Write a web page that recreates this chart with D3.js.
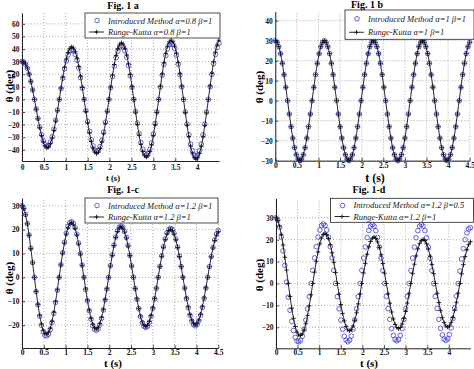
<!DOCTYPE html>
<html>
<head>
<meta charset="utf-8">
<script src="https://cdn.jsdelivr.net/npm/d3@7"></script>
<style>
  body { margin: 0; background: #fff; }
  svg { display: block; font-family: "Liberation Serif", "DejaVu Serif", serif; }
</style>
</head>
<body>
<svg id="chart" width="474" height="369"></svg>
<script>
// sample times (s), shared by every series
const time = [0,0.041,0.081,0.122,0.162,0.203,0.243,0.284,0.324,0.365,0.405,0.446,0.486,0.527,0.568,
  0.608,0.649,0.689,0.730,0.770,0.811,0.851,0.892,0.932,0.973,1.014,1.054,1.095,1.135,
  1.176,1.216,1.257,1.297,1.338,1.378,1.419,1.459,1.500,1.541,1.581,1.622,1.662,1.703,
  1.743,1.784,1.824,1.865,1.905,1.946,1.986,2.027,2.068,2.108,2.149,2.189,2.230,2.270,
  2.311,2.351,2.392,2.432,2.473,2.513,2.554,2.595,2.635,2.676,2.716,2.757,2.797,2.838,
  2.878,2.919,2.959,3.000,3.041,3.081,3.122,3.162,3.203,3.243,3.284,3.324,3.365,3.405,
  3.446,3.486,3.527,3.568,3.608,3.649,3.689,3.730,3.770,3.811,3.851,3.892,3.932,3.973,
  4.013,4.054,4.095,4.135,4.176,4.216,4.257,4.297,4.338,4.378,4.419,4.459,4.500];

// Fig 1 a : alpha = 0.8, beta = 1
const methodA = [30,29.7,27.9,24.7,20.0,14.1,7.4,0,-7.6,-15.1,-21.9,-27.9,-32.7,-35.9,-37.3,
  -36.6,-33.9,-29.6,-23.6,-16.5,-8.5,0,8.6,16.8,24.2,30.5,35.2,38.3,39.4,
  38.5,35.8,31.1,24.9,17.4,9.0,0,-9.0,-17.6,-25.4,-32.0,-36.9,-40.2,-41.3,
  -40.4,-37.4,-32.5,-26.0,-18.1,-9.3,0,9.4,18.3,26.3,33.1,38.2,41.4,42.6,
  41.6,38.6,33.5,26.8,18.7,9.6,0,-9.7,-18.9,-27.2,-34.2,-39.5,-42.8,-44.0,
  -42.9,-39.7,-34.5,-27.5,-19.2,-9.9,0,9.9,19.3,27.7,34.8,40.2,43.5,44.7,
  43.6,40.4,35.0,27.9,19.5,10.0,0,-10.0,-19.5,-28.0,-35.3,-40.6,-44.1,-45.2,
  -44.1,-40.8,-35.4,-28.2,-19.7,-10.1,0,10.1,19.8,28.4,35.7,41.2,44.6];
const rkA = [30,29.8,28.1,24.9,20.2,14.3,7.5,0,-7.8,-15.4,-22.5,-28.7,-33.6,-37.0,-38.5,
  -37.8,-35.1,-30.7,-24.6,-17.2,-8.9,0,9.0,17.6,25.5,32.1,37.2,40.6,41.8,
  40.8,37.8,32.9,26.2,18.3,9.4,0,-9.5,-18.5,-26.6,-33.4,-38.6,-41.8,-43.0,
  -42.0,-39.0,-33.9,-27.2,-19.0,-9.8,0,9.8,19.2,27.7,34.9,40.3,43.8,45.0,
  44.0,40.6,35.3,28.2,19.7,10.1,0,-10.1,-19.8,-28.4,-35.7,-41.3,-44.7,-45.9,
  -44.8,-41.5,-36.1,-28.8,-20.1,-10.3,0,10.4,20.2,29.1,36.6,42.2,45.7,47.0,
  45.8,42.4,36.8,29.4,20.5,10.5,0,-10.5,-20.5,-29.5,-37.1,-42.7,-46.3,-47.5,
  -46.4,-42.9,-37.3,-29.7,-20.7,-10.7,0,10.7,20.8,29.9,37.5,43.3,47.0];

// Fig 1 b : alpha = 1, beta = 1
const methodB = [30,29.2,27.0,23.5,18.7,13.0,6.7,0,-6.7,-13.0,-18.7,-23.5,-27.0,-29.2,
  -30,-29.2,-27.0,-23.5,-18.7,-13.0,-6.7,0,6.7,13.0,18.7,23.5,27.0,29.2,
  30,29.2,27.0,23.5,18.7,13.0,6.7,0,-6.7,-13.0,-18.7,-23.5,-27.0,-29.2,
  -30,-29.2,-27.0,-23.5,-18.7,-13.0,-6.7,0,6.7,13.0,18.7,23.5,27.0,29.2,
  30,29.2,27.0,23.5,18.7,13.0,6.7,0,-6.7,-13.0,-18.7,-23.5,-27.0,-29.2,
  -30,-29.2,-27.0,-23.5,-18.7,-13.0,-6.7,0,6.7,13.0,18.7,23.5,27.0,29.2,
  30,29.2,27.0,23.5,18.7,13.0,6.7,0,-6.7,-13.0,-18.7,-23.5,-27.0,-29.2,
  -30,-29.2,-27.0,-23.5,-18.7,-13.0,-6.7,0,6.7,13.0,18.7,23.5,27.0,29.2];
const rkB = [30,29.2,27.0,23.5,18.7,13.0,6.7,0,-6.7,-13.0,-18.7,-23.5,-27.0,-29.2,
  -30,-29.2,-27.0,-23.5,-18.7,-13.0,-6.7,0,6.7,13.0,18.7,23.5,27.0,29.2,
  30,29.2,27.0,23.5,18.7,13.0,6.7,0,-6.7,-13.0,-18.7,-23.5,-27.0,-29.2,
  -30,-29.2,-27.0,-23.5,-18.7,-13.0,-6.7,0,6.7,13.0,18.7,23.5,27.0,29.2,
  30,29.2,27.0,23.5,18.7,13.0,6.7,0,-6.7,-13.0,-18.7,-23.5,-27.0,-29.2,
  -30,-29.2,-27.0,-23.5,-18.7,-13.0,-6.7,0,6.7,13.0,18.7,23.5,27.0,29.2,
  30,29.2,27.0,23.5,18.7,13.0,6.7,0,-6.7,-13.0,-18.7,-23.5,-27.0,-29.2,
  -30,-29.2,-27.0,-23.5,-18.7,-13.0,-6.7,0,6.7,13.0,18.7,23.5,27.0,29.2];

// Fig 1 c : alpha = 1.2, beta = 1  (same Runge-Kutta run is used in Fig 1 d)
const methodC = [30,28.9,26.3,22.5,17.7,12.2,6.2,0,-6.0,-11.5,-16.3,-20.1,-22.8,-24.3,-24.5,
  -23.8,-21.9,-18.9,-15.1,-10.5,-5.4,0,5.3,10.3,14.7,18.4,21.2,22.8,23.3,
  22.6,20.8,18.1,14.3,9.9,5.1,0,-5.1,-9.8,-14.0,-17.5,-20.2,-21.7,-22.2,
  -21.6,-19.9,-17.2,-13.7,-9.5,-4.9,0,4.9,9.4,13.5,16.9,19.5,21.0,21.5,
  21.0,19.3,16.7,13.3,9.2,4.8,0,-4.7,-9.2,-13.1,-16.5,-19.0,-20.5,-21.0,
  -20.5,-18.8,-16.3,-13.0,-9.0,-4.6,0,4.6,9.0,12.8,16.1,18.6,20.0,20.5,
  20.0,18.5,16.0,12.7,8.9,4.5,0,-4.5,-8.9,-12.7,-15.9,-18.3,-19.8,-20.3,
  -19.7,-18.2,-15.8,-12.6,-8.8,-4.5,0,4.5,8.7,12.5,15.7,18.1,19.6];
const rkC = [30,28.8,26.2,22.4,17.6,12.0,6.1,0,-5.9,-11.3,-15.9,-19.6,-22.2,-23.5,-23.7,
  -23.0,-21.3,-18.4,-14.6,-10.2,-5.2,0,5.2,10.1,14.4,18.1,20.7,22.4,22.9,
  22.2,20.5,17.7,14.0,9.7,5.0,0,-4.9,-9.6,-13.7,-17.1,-19.6,-21.2,-21.6,
  -21.1,-19.4,-16.8,-13.4,-9.3,-4.8,0,4.8,9.2,13.3,16.7,19.2,20.7,21.2,
  20.6,19.0,16.5,13.1,9.1,4.7,0,-4.7,-9.0,-13.0,-16.2,-18.7,-20.1,-20.6,
  -20.1,-18.5,-16.0,-12.8,-8.9,-4.5,0,4.5,8.8,12.6,15.8,18.2,19.6,20.1,
  19.6,18.1,15.7,12.5,8.7,4.5,0,-4.5,-8.7,-12.4,-15.6,-17.9,-19.4,-19.9,
  -19.4,-17.9,-15.5,-12.3,-8.6,-4.4,0,4.4,8.6,12.3,15.4,17.7,19.1];

// Fig 1 d : introduced method alpha = 1.2, beta = 0.5
const methodD = [30,28.9,25.7,21.2,14.9,8.3,0.6,-6.3,-12.2,-17.3,-21.5,-24.6,-26.3,-26.6,
  -26.0,-24.1,-20.9,-16.7,-11.6,-6.0,0,6.0,11.7,16.8,21.2,24.4,26.5,27.2,
  26.5,24.4,21.2,16.8,11.7,6.0,0,-6.0,-11.6,-16.7,-20.9,-24.1,-25.9,-26.6,
  -25.9,-24.0,-20.9,-16.6,-11.6,-6.0,0,6.0,11.6,16.7,21.0,24.2,26.2,26.9,
  26.2,24.1,21.0,16.6,11.6,5.9,0,-5.9,-11.5,-16.4,-20.6,-23.7,-25.6,-26.2,
  -25.6,-23.7,-20.6,-16.4,-11.5,-5.9,0,5.9,11.6,16.6,20.9,24.1,26.2,26.9,
  26.2,24.1,20.9,16.6,11.5,5.9,0,-5.9,-11.4,-16.4,-20.5,-23.5,-25.4,-26.0,
  -25.3,-23.3,-20.3,-16.1,-11.2,-5.8,0,5.7,11.2,15.9,20.0,23.1,24.9,25.5];

const xTicksFull = [0,0.5,1,1.5,2,2.5,3,3.5,4,4.5];
const xTicksShort = [0,0.5,1,1.5,2,2.5,3,3.5,4];
const yTicksA = [-40,-30,-20,-10,0,10,20,30,40,50,60];
const yTicksB = [-30,-20,-10,0,10,20,30,40];
const yTicksCD = [-20,-10,0,10,20,30];

const namesA = ["Introduced Method \u03b1=0.8 \u03b2=1", "Runge-Kutta \u03b1=0.8 \u03b2=1"];
const namesB = ["Introduced Method \u03b1=1 \u03b2=1", "Runge-Kutta \u03b1=1 \u03b2=1"];
const namesC = ["Introduced Method \u03b1=1.2 \u03b2=1", "Runge-Kutta \u03b1=1.2 \u03b2=1"];
const namesD = ["Introduced Method \u03b1=1.2 \u03b2=0.5", "Runge-Kutta \u03b1=1.2 \u03b2=1"];

const blueCol = "#3c3cd2";

const panels = [
  {title: "Fig. 1 a", tx: 123, ty: 9, px: [22, 219], py: [161, 13], yDom: [-48.9, 68.6],
   yTicks: yTicksA, xTicks: xTicksShort, xPad: 3.5, blue: methodA, black: rkA, names: namesA,
   tLab: [113, 181, 8.5], thLab: [9, 86], leg: [85, 13, 135, 25]},
  {title: "Fig. 1 b", tx: 367, ty: 8, px: [275.3, 469.7], py: [160.7, 11.7], yDom: [-30, 44.5],
   yTicks: yTicksB, xTicks: xTicksFull, xPad: 1.5, blue: methodB, black: rkB, names: namesB,
   tLab: [375, 182, 12], thLab: [259, 87], leg: [345, 10, 129, 29.3]},
  {title: "Fig. 1-c", tx: 123, ty: 193, px: [22, 218.3], py: [348, 198.3], yDom: [-29.6, 33.1],
   yTicks: yTicksCD, xTicks: xTicksFull, xPad: 1.5, blue: methodC, black: rkC, names: namesC,
   tLab: [113, 367, 11], thLab: [9, 278], leg: [85, 198, 133, 25]},
  {title: "Fig. 1-d", tx: 369, ty: 193, px: [276, 470.4], py: [348.3, 198.3], yDom: [-29.6, 38.9],
   yTicks: yTicksCD, xTicks: xTicksShort, xPad: 1.5, blue: methodD, black: rkC, names: namesD,
   tLab: [369, 367, 11], thLab: [259, 275], leg: [330.5, 198.3, 143, 24]}
];

const svg = d3.select("#chart");
const plusPath = "M-2.2,0H2.2M0,-2.2V2.2";

panels.forEach(function(p) {
  const x = d3.scaleLinear().domain([0, 4.5]).range(p.px);
  const y = d3.scaleLinear().domain(p.yDom).range(p.py);
  const g = svg.append("g");

  // dotted grid
  g.selectAll(".gx").data(p.xTicks).enter().append("line")
    .attr("x1", d => x(d)).attr("x2", d => x(d))
    .attr("y1", p.py[0]).attr("y2", p.py[1])
    .attr("stroke", "#8a8a8a").attr("stroke-width", 0.7).attr("stroke-dasharray", "1,2");
  g.selectAll(".gy").data(p.yTicks).enter().append("line")
    .attr("x1", p.px[0]).attr("x2", p.px[1])
    .attr("y1", d => y(d)).attr("y2", d => y(d))
    .attr("stroke", "#8a8a8a").attr("stroke-width", 0.7).attr("stroke-dasharray", "1,2");

  // axes
  const xAxis = g.append("g").attr("transform", `translate(0,${p.py[0]})`)
    .call(d3.axisBottom(x).tickValues(p.xTicks).tickSizeInner(-3).tickSizeOuter(0).tickPadding(p.xPad)
      .tickFormat(d3.format("")));
  const yAxis = g.append("g").attr("transform", `translate(${p.px[0]},0)`)
    .call(d3.axisLeft(y).tickValues(p.yTicks).tickSizeInner(-3).tickSizeOuter(0).tickPadding(2.5)
      .tickFormat(d3.format("")));
  [xAxis, yAxis].forEach(function(a) {
    a.select(".domain").attr("stroke", "#222").attr("stroke-width", 1);
    a.selectAll(".tick line").attr("stroke", "#222").attr("stroke-width", 0.8);
    a.selectAll("text").attr("font-family", "Liberation Serif").attr("font-weight", "bold")
      .attr("font-size", 7.5).attr("fill", "#111");
  });

  // series
  const pts = time.map((t, i) => ({t: t, b: p.blue[i], k: p.black[i]}));
  g.selectAll(".mb").data(pts).enter().append("circle")
    .attr("cx", d => x(d.t)).attr("cy", d => y(d.b)).attr("r", 2.3)
    .attr("fill", "none").attr("stroke", blueCol).attr("stroke-width", 0.8);
  g.append("path").datum(pts)
    .attr("d", d3.line().x(d => x(d.t)).y(d => y(d.k)).curve(d3.curveCatmullRom))
    .attr("fill", "none").attr("stroke", "#111").attr("stroke-width", 0.9);
  g.selectAll(".mk").data(pts).enter().append("path")
    .attr("transform", d => `translate(${x(d.t)},${y(d.k)})`)
    .attr("d", plusPath).attr("stroke", "#111").attr("stroke-width", 0.9);

  // title and axis labels
  g.append("text").attr("x", p.tx).attr("y", p.ty).attr("text-anchor", "middle")
    .attr("font-weight", "bold").attr("font-size", 10).text(p.title);
  g.append("text").attr("x", p.tLab[0]).attr("y", p.tLab[1]).attr("text-anchor", "middle")
    .attr("font-weight", "bold").attr("font-size", p.tLab[2]).text("t (s)");
  g.append("text").attr("transform", `translate(${p.thLab[0]},${p.thLab[1]}) rotate(-90)`)
    .attr("text-anchor", "middle").attr("dominant-baseline", "central")
    .attr("font-weight", "bold").attr("font-size", 11).text("\u03b8 (deg)");

  // legend
  const lg = g.append("g").attr("transform", `translate(${p.leg[0]},${p.leg[1]})`);
  lg.append("rect").attr("width", p.leg[2]).attr("height", p.leg[3])
    .attr("fill", "#fff").attr("stroke", "#222").attr("stroke-width", 0.8);
  const r1 = p.leg[3] * 0.3, r2 = p.leg[3] * 0.76;
  lg.append("circle").attr("cx", 12).attr("cy", r1).attr("r", 2.3)
    .attr("fill", "none").attr("stroke", blueCol).attr("stroke-width", 0.8);
  lg.append("line").attr("x1", 4).attr("x2", 19).attr("y1", r2).attr("y2", r2)
    .attr("stroke", "#111").attr("stroke-width", 0.9);
  lg.append("path").attr("transform", `translate(11.5,${r2})`).attr("d", plusPath)
    .attr("stroke", "#111").attr("stroke-width", 0.9);
  lg.selectAll(".lt").data(p.names).enter().append("text")
    .attr("x", 23).attr("y", (d, i) => i ? r2 : r1).attr("dominant-baseline", "central")
    .attr("font-style", "italic").attr("font-size", 8.5).attr("fill", "#222").text(d => d);
});
</script>
</body>
</html>
